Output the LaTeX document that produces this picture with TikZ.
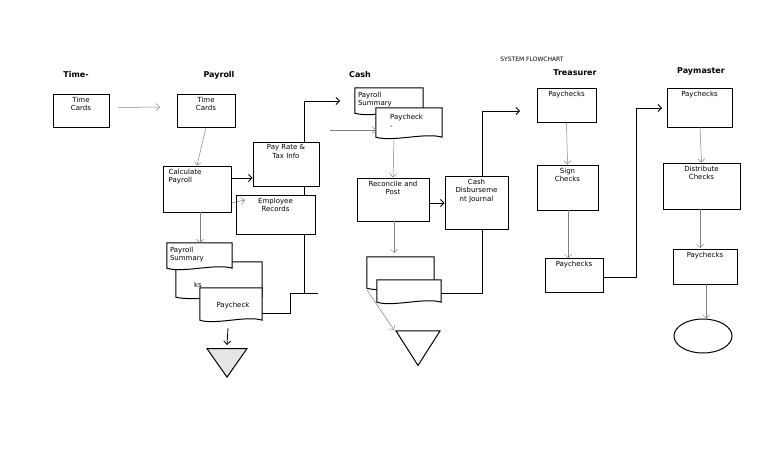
\documentclass[tikz,border=0pt]{standalone}
\usepackage{fontspec}
\setmainfont{DejaVu Sans}
\usetikzlibrary{arrows.meta,calc,shapes.geometric}
\begin{document}
\begin{tikzpicture}[x=1pt,y=-1pt,
  box/.style={draw,line width=1pt,fill=white,inner sep=0pt},
  txt/.style={font=\fontsize{7}{8.5}\selectfont,align=center,inner sep=1pt},
  hdr/.style={font=\fontsize{8}{9}\selectfont\bfseries,inner sep=0pt},
  arr/.style={-{Straight Barb[length=3.5pt,width=7pt]},line width=0.5pt,gray},
  arrb/.style={-{Straight Barb[length=3.5pt,width=7pt]},line width=0.8pt},
  ln/.style={line width=0.8pt}]
\useasboundingbox (0,0) rectangle (768,466);
\newcommand\mybox[6]{\node[box,minimum width={(#4-#2)*1pt},minimum height={(#5-#3)*1pt}] (#1) at ({(#2+#4)/2},{(#3+#5)/2}) {};
  \node[txt,anchor=north] (#1t) at ([yshift=-2pt]#1.north) {#6};}
\newcommand\mydoc[6]{\node[inner sep=0pt,minimum width={(#4-#2)*1pt},minimum height={(#5-#3)*1pt}] (#1) at ({(#2+#4)/2},{(#3+#5)/2}) {};
  \draw[line width=1pt,fill=white] (#1.north west) -- (#1.south west) .. controls ($(#1.south west)!0.5!(#1.south)+(0,5)$) and ($(#1.south)!0.5!(#1.south east)+(0,-5)$) .. (#1.south east) -- (#1.north east) -- cycle;
  \node[txt,anchor=north west,align=left] (#1t) at ([xshift=2pt,yshift=-3pt]#1.north west) {#6};}
% headers
\node[font=\fontsize{6}{7}\selectfont,inner sep=0pt] (title) at (532,59) {SYSTEM FLOWCHART};
\node[hdr] (h1) at (76,75) {Time-};
\node[hdr] (h2) at (219,75) {Payroll};
\node[hdr] (h3) at (360,75) {Cash};
\node[hdr] (h4) at (575,73) {Treasurer};
\node[hdr] (h5) at (701,71) {Paymaster};
% connector lines behind
\draw[ln] (262,313) -- (290,313) -- (290,293) -- (318,293);
\draw[arrb] (304,293) -- (304,101) -- (340,101);
\draw[ln] (441,293) -- (482,293) -- (482,229);
\draw[arrb] (482,176) -- (482,111) -- (520,111);
\draw[arrb] (603,277) -- (636,277) -- (636,108) -- (662,108);
% time-keeping
\mybox{tc1}{53}{94}{109}{127}{Time\\Cards}
% payroll
\mybox{tc2}{177}{94}{235}{127}{Time\\Cards}
\mybox{pr}{253}{142}{319}{186}{Pay Rate \&\\Tax Info}
\mybox{er}{236}{195}{315}{234}{Employee\\Records}
\node[box,minimum width=68pt,minimum height=46pt] (cp) at (197,189) {};
\node[txt,anchor=north west,align=left] (cpt) at ([xshift=5pt,yshift=-2pt]cp.north west) {Calculate\\Payroll};
\mydoc{ks}{176}{262}{262}{297}{}
\node[txt] (kst) at (198,285) {ks};
\mydoc{pc1}{200}{288}{262}{320}{}
\node[txt] (pc1t) at (233,306) {Paycheck};
\mydoc{ps1}{167}{243}{232}{268}{Payroll\\Summary}
\node[isosceles triangle,isosceles triangle apex angle=70,shape border rotate=-90,draw,line width=1pt,fill=gray!20,minimum width=40pt,inner sep=0pt] (f1) at (227,359) {};
% cash disbursements
\mydoc{ps2}{355}{88}{423}{113}{Payroll\\Summary}
\mydoc{pc2}{376}{108}{442}{137}{}
\node[txt,anchor=north west,align=left] (pc2t) at (389,113) {Paycheck\\-};
\mybox{rp}{357}{178}{429}{221}{Reconcile and\\Post}
\mybox{cdj}{445}{176}{508}{229}{Cash\\Disburseme\\nt Journal}
\mydoc{d1}{367}{257}{434}{288}{}
\mydoc{d2}{377}{280}{441}{302}{}
\node[isosceles triangle,isosceles triangle apex angle=65,shape border rotate=-90,draw,line width=1pt,fill=white,minimum width=44pt,inner sep=0pt] (f2) at (418,343) {};
% treasurer
\mybox{t1}{537}{88}{596}{122}{Paychecks}
\mybox{sc}{537}{165}{598}{210}{Sign\\Checks}
\mybox{t2}{545}{258}{603}{292}{Paychecks}
% paymaster
\mybox{p1}{667}{88}{732}{127}{Paychecks}
\mybox{dc}{663}{163}{740}{209}{Distribute\\Checks}
\mybox{p2}{673}{249}{737}{284}{Paychecks}
\node[ellipse,draw,line width=1pt,minimum width=58pt,minimum height=34pt] (end) at (703,336) {};
% arrows
\draw[arr] (tc1.east)++(9,-3) -- (160,107);
\draw[arr] (tc2.south) -- (cp.north);
\draw[arrb] (cp.east |- 0,178) -- (pr.west |- 0,178);
\draw[arr] (cp.east |- 0,203) -- (245,200);
\draw[arr] (200,212) -- (200,243);
\draw[arr] (330,130) -- (pc2.west |- 0,130);
\draw[arrb] (228,328) -- (f1.apex |- 0,345);
\draw[arr] (394,140) -- (rp.north);
\draw[arrb] (rp.east |- 0,203) -- (cdj.west |- 0,203);
\draw[arr] (394,221) -- (394,253);
\draw[arr] (367,290) -- (394,330);
\draw[arr] (t1.south) -- (sc.north);
\draw[arr] (568,210) -- (568,258);
\draw[arr] (700,127) -- (dc.north);
\draw[arr] (700,209) -- (700,248);
\draw[arr] (706,284) -- (end.north -| 706,0);
\end{tikzpicture}
\end{document}
